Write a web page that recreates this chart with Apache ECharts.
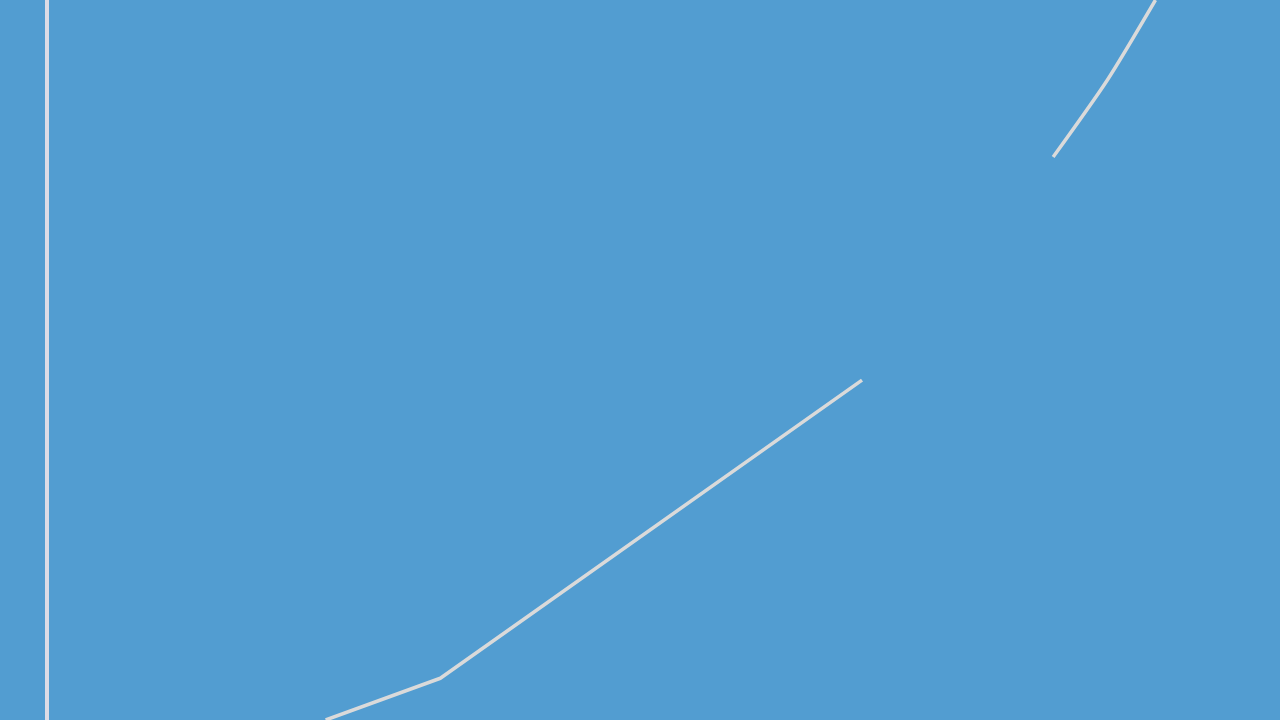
<!DOCTYPE html>
<html>
<head>
<meta charset="utf-8">
<script src="https://cdn.jsdelivr.net/npm/echarts@6/dist/echarts.min.js"></script>
<style>
html,body{margin:0;padding:0;background:#529dd1;}
#chart{width:1280px;height:720px;}
</style>
</head>
<body>
<div id="chart"></div>
<script>
// Data (abstract units); the two pieces are separated by a gap
const lowerX = [22.6, 31.9, 66.1];
const lowerY = [0.0, 5.8, 47.2];
const upperX = [81.6, 86.0, 89.9];
const upperY = [78.2, 88.9, 100.0];

const lineStyle = { color: '#dadada', width: 3.5 };
const chart = echarts.init(document.getElementById('chart'));
chart.setOption({
  backgroundColor: '#529dd1',
  animation: false,
  grid: { left: 47, right: 0, top: 0, bottom: 0 },
  xAxis: {
    type: 'value', min: 0, max: 100,
    axisLine: { show: false }, axisTick: { show: false },
    axisLabel: { show: false }, splitLine: { show: false }
  },
  yAxis: {
    type: 'value', min: 0, max: 100,
    axisLine: { show: true, lineStyle: { color: '#dcdce6', width: 4 } },
    axisTick: { show: false }, axisLabel: { show: false }, splitLine: { show: false }
  },
  series: [{
    type: 'line',
    data: lowerX.map((x, i) => [x, lowerY[i]]),
    showSymbol: false, symbol: 'none',
    lineStyle: lineStyle
  }, {
    type: 'line',
    data: upperX.map((x, i) => [x, upperY[i]]),
    smooth: 0.25,
    showSymbol: false, symbol: 'none',
    lineStyle: lineStyle
  }]
});
</script>
</body>
</html>
